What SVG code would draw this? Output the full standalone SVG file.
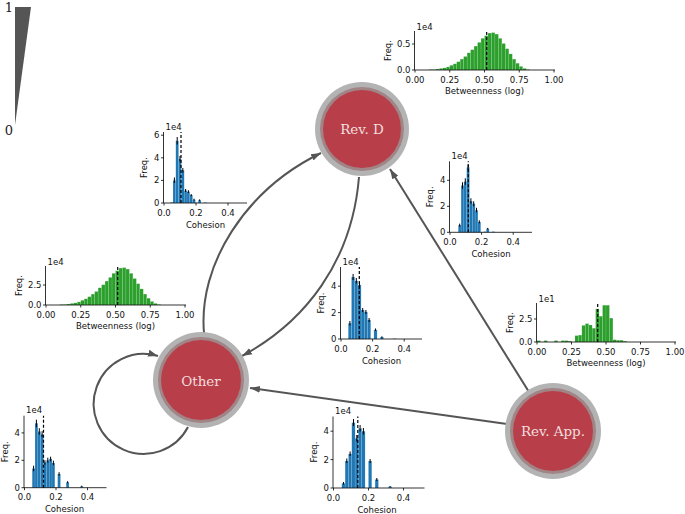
<svg xmlns="http://www.w3.org/2000/svg" width="685" height="514" viewBox="0 0 685 514">
<style>
.sp{stroke:#000;stroke-width:0.8;fill:none}
.tk{stroke:#000;stroke-width:0.8;fill:none}
.tl{font-family:"DejaVu Sans",sans-serif;font-size:8.5px;fill:#111}
.e{text-anchor:end}
.m{text-anchor:middle}
.g{fill:#2ca02c;stroke:#fff;stroke-opacity:.3;stroke-width:.4}
.b{fill:#1f77b4;stroke:#fff;stroke-opacity:.3;stroke-width:.4}
.eb{stroke:#000;stroke-width:1;fill:none}
.dash{stroke:#000;stroke-width:1.2;stroke-dasharray:3 2;fill:none}
.edge{fill:none;stroke:#555;stroke-width:2;marker-end:url(#ah)}
.ring{fill:#b3b3b3}
.band{fill:#a08486}
.core{fill:#b83f4a}
.nl{font-family:"DejaVu Serif",serif;font-size:13.5px;fill:#f3dede;text-anchor:middle}
.lg{font-family:"DejaVu Serif",serif;font-size:13px;fill:#222}
</style>
<defs>
<marker id="ah" viewBox="0 0 10 10" refX="10" refY="5" markerWidth="10" markerHeight="10" markerUnits="userSpaceOnUse" orient="auto">
<path d="M0,1.5L10,5L0,8.5z" fill="#555"/>
</marker>
<g id="btw">
<rect class="g" x="13.9" y="-0.5" width="3.48" height="0.5"/>
<rect class="g" x="17.38" y="-0.5" width="3.48" height="0.5"/>
<rect class="g" x="20.85" y="-1" width="3.48" height="1"/>
<rect class="g" x="24.33" y="-1.6" width="3.48" height="1.6"/>
<rect class="g" x="27.8" y="-2.1" width="3.48" height="2.1"/>
<rect class="g" x="31.28" y="-3.1" width="3.48" height="3.1"/>
<rect class="g" x="34.75" y="-4.7" width="3.48" height="4.7"/>
<rect class="g" x="38.23" y="-6.2" width="3.48" height="6.2"/>
<rect class="g" x="41.7" y="-8.3" width="3.48" height="8.3"/>
<rect class="g" x="45.18" y="-10.9" width="3.48" height="10.9"/>
<rect class="g" x="48.65" y="-13.5" width="3.48" height="13.5"/>
<rect class="g" x="52.13" y="-17.2" width="3.48" height="17.2"/>
<rect class="g" x="55.6" y="-20.3" width="3.48" height="20.3"/>
<rect class="g" x="59.08" y="-23.9" width="3.48" height="23.9"/>
<rect class="g" x="62.55" y="-27.6" width="3.48" height="27.6"/>
<rect class="g" x="66.03" y="-31.7" width="3.48" height="31.7"/>
<rect class="g" x="69.5" y="-34.3" width="3.48" height="34.3"/>
<rect class="g" x="72.98" y="-36.9" width="3.48" height="36.9"/>
<rect class="g" x="76.45" y="-37.4" width="3.48" height="37.4"/>
<rect class="g" x="79.93" y="-35.9" width="3.48" height="35.9"/>
<rect class="g" x="83.4" y="-31.7" width="3.48" height="31.7"/>
<rect class="g" x="86.88" y="-26.5" width="3.48" height="26.5"/>
<rect class="g" x="90.35" y="-21.3" width="3.48" height="21.3"/>
<rect class="g" x="93.83" y="-16.1" width="3.48" height="16.1"/>
<rect class="g" x="97.3" y="-10.9" width="3.48" height="10.9"/>
<rect class="g" x="100.78" y="-6.8" width="3.48" height="6.8"/>
<rect class="g" x="104.25" y="-3.6" width="3.48" height="3.6"/>
<rect class="g" x="107.73" y="-1.6" width="3.48" height="1.6"/>
<rect class="g" x="111.2" y="-0.5" width="3.48" height="0.5"/>
<path class="dash" d="M71.7,0V-39"/>
</g>
</defs>

<g id="legend">
<polygon points="15,7 31,7 15,125" fill="#555"/>
<text class="lg" x="13" y="12" text-anchor="end">1</text>
<text class="lg" x="13" y="135" text-anchor="end">0</text>
</g>

<g id="connectors">
<path class="edge" d="M204,333 C198,265 245,190 321,153"/>
<path class="edge" d="M359,177 C352,262 305,322 242,356"/>
<path class="edge" d="M529,392 L390,169"/>
<path class="edge" d="M507,424 L250,388"/>
<path class="edge" d="M188,427 A50,50 0 1 1 158,356"/>
</g>

<g id="hist-revd-betweenness" transform="translate(415,70)">
<use href="#btw"/>
<path class="sp" d="M-0.5,-39V0H140"/>
<path class="tk" d="M-3,0H-0.5M-3,-26H-0.5M0,0V2.5M34.75,0V2.5M69.5,0V2.5M104.25,0V2.5M139,0V2.5"/>
<text class="tl e" x="-4.5" y="3">0.0</text>
<text class="tl e" x="-4.5" y="-23">0.5</text>
<text class="tl m" x="0" y="12.5">0.00</text>
<text class="tl m" x="34.75" y="12.5">0.25</text>
<text class="tl m" x="69.5" y="12.5">0.50</text>
<text class="tl m" x="104.25" y="12.5">0.75</text>
<text class="tl m" x="139" y="12.5">1.00</text>
<text class="tl" x="1.5" y="-40.5">1e4</text>
<text class="tl m" transform="translate(-24,-19.5) rotate(-90)">Freq.</text>
<text class="tl m" x="69.5" y="24">Betweenness (log)</text>
</g>

<g id="hist-other-betweenness" transform="translate(46,305)">
<use href="#btw"/>
<path class="sp" d="M-0.5,-39V0H140"/>
<path class="tk" d="M-3,0H-0.5M-3,-20H-0.5M0,0V2.5M34.75,0V2.5M69.5,0V2.5M104.25,0V2.5M139,0V2.5"/>
<text class="tl e" x="-4.5" y="3">0.0</text>
<text class="tl e" x="-4.5" y="-17">2.5</text>
<text class="tl m" x="0" y="12.5">0.00</text>
<text class="tl m" x="34.75" y="12.5">0.25</text>
<text class="tl m" x="69.5" y="12.5">0.50</text>
<text class="tl m" x="104.25" y="12.5">0.75</text>
<text class="tl m" x="139" y="12.5">1.00</text>
<text class="tl" x="1.5" y="-40.5">1e4</text>
<text class="tl m" transform="translate(-24,-19.5) rotate(-90)">Freq.</text>
<text class="tl m" x="69.5" y="24">Betweenness (log)</text>
</g>

<g id="hist-revapp-betweenness" transform="translate(537,342)">
<rect class="g" x="0" y="-1.4" width="3.45" height="1.4"/>
<rect class="g" x="6.9" y="-1.4" width="3.45" height="1.4"/>
<rect class="g" x="17.25" y="-1.4" width="3.45" height="1.4"/>
<rect class="g" x="24.15" y="-1.4" width="3.45" height="1.4"/>
<rect class="g" x="27.6" y="-1.4" width="3.45" height="1.4"/>
<rect class="g" x="31.05" y="-0.9" width="3.45" height="0.9"/>
<rect class="g" x="37.95" y="-6.4" width="3.45" height="6.4"/>
<rect class="g" x="41.4" y="-6.9" width="3.45" height="6.9"/>
<rect class="g" x="44.85" y="-16.6" width="3.45" height="16.6"/>
<rect class="g" x="48.3" y="-18.4" width="3.45" height="18.4"/>
<rect class="g" x="51.75" y="-17" width="3.45" height="17"/>
<rect class="g" x="55.2" y="-13.8" width="3.45" height="13.8"/>
<rect class="g" x="58.65" y="-33.1" width="3.45" height="33.1"/>
<rect class="g" x="62.1" y="-25.8" width="3.45" height="25.8"/>
<rect class="g" x="65.55" y="-36.8" width="3.45" height="36.8"/>
<rect class="g" x="69" y="-36.8" width="3.45" height="36.8"/>
<rect class="g" x="72.45" y="-23.9" width="3.45" height="23.9"/>
<rect class="g" x="75.9" y="-2.3" width="3.45" height="2.3"/>
<rect class="g" x="79.35" y="-1.8" width="3.45" height="1.8"/>
<rect class="g" x="82.8" y="-1.8" width="3.45" height="1.8"/>
<rect class="g" x="86.25" y="-0.9" width="3.45" height="0.9"/>
<path class="dash" d="M60.7,0V-39"/>
<path class="sp" d="M-0.5,-39V0H139"/>
<path class="tk" d="M-3,0H-0.5M-3,-23H-0.5M0,0V2.5M34.5,0V2.5M69,0V2.5M103.5,0V2.5M138,0V2.5"/>
<text class="tl e" x="-4.5" y="3">0.0</text>
<text class="tl e" x="-4.5" y="-20">2.5</text>
<text class="tl m" x="0" y="12.5">0.00</text>
<text class="tl m" x="34.5" y="12.5">0.25</text>
<text class="tl m" x="69" y="12.5">0.50</text>
<text class="tl m" x="103.5" y="12.5">0.75</text>
<text class="tl m" x="138" y="12.5">1.00</text>
<text class="tl" x="1.5" y="-40.5">1e1</text>
<text class="tl m" transform="translate(-24,-19.5) rotate(-90)">Freq.</text>
<text class="tl m" x="69" y="24">Betweenness (log)</text>
</g>

<g id="hist-other-revd-cohesion" transform="translate(164,203)">
<rect class="b" x="6.2" y="-0.6" width="2.8" height="0.6"/>
<rect class="b" x="9" y="-22.6" width="2.8" height="22.6"/>
<rect class="b" x="11.8" y="-62.2" width="2.8" height="62.2"/>
<rect class="b" x="14.6" y="-44.1" width="2.8" height="44.1"/>
<rect class="b" x="17.4" y="-32.8" width="2.8" height="32.8"/>
<rect class="b" x="20.2" y="-12.4" width="2.8" height="12.4"/>
<rect class="b" x="23" y="-11.3" width="2.8" height="11.3"/>
<rect class="b" x="25.8" y="-7.9" width="2.8" height="7.9"/>
<rect class="b" x="28.6" y="-3.4" width="2.8" height="3.4"/>
<rect class="b" x="31.4" y="-0.3" width="2.8" height="0.3"/>
<rect class="b" x="34.2" y="-2.8" width="2.8" height="2.8"/>
<rect class="b" x="39.8" y="-0.5" width="2.8" height="0.5"/>
<path class="eb" d="M10.4,-20V-25.5M13.2,-58.5V-66M16,-41.5V-47M18.8,-30.5V-35M21.6,-11V-14M24.4,-10V-12.8M27.2,-6.8V-9M30,-2.5V-4.3M35.6,-2V-3.6"/>
<path class="dash" d="M17,0V-71"/>
<path class="sp" d="M-0.5,-71V0H83"/>
<path class="tk" d="M-3,0H-0.5M-3,-22.6H-0.5M-3,-45.2H-0.5M-3,-67.8H-0.5M0,0V2.5M32,0V2.5M64,0V2.5"/>
<text class="tl e" x="-4.5" y="3">0</text>
<text class="tl e" x="-4.5" y="-19.6">2</text>
<text class="tl e" x="-4.5" y="-42.2">4</text>
<text class="tl e" x="-4.5" y="-64.8">6</text>
<text class="tl m" x="0" y="12.5">0.0</text>
<text class="tl m" x="32" y="12.5">0.2</text>
<text class="tl m" x="64" y="12.5">0.4</text>
<text class="tl" x="1.5" y="-73.5">1e4</text>
<text class="tl m" transform="translate(-17,-35.5) rotate(-90)">Freq.</text>
<text class="tl m" x="41.5" y="24.5">Cohesion</text>
</g>

<g id="hist-revapp-revd-cohesion" transform="translate(450,232.3)">
<rect class="b" x="8.3" y="-7.2" width="2.8" height="7.2"/>
<rect class="b" x="11.1" y="-46.8" width="2.8" height="46.8"/>
<rect class="b" x="13.9" y="-50.7" width="2.8" height="50.7"/>
<rect class="b" x="16.7" y="-65" width="2.8" height="65"/>
<rect class="b" x="19.5" y="-31.2" width="2.8" height="31.2"/>
<rect class="b" x="22.3" y="-28.6" width="2.8" height="28.6"/>
<rect class="b" x="25.1" y="-22.1" width="2.8" height="22.1"/>
<rect class="b" x="27.9" y="-10.4" width="2.8" height="10.4"/>
<rect class="b" x="33.5" y="-0.7" width="2.8" height="0.7"/>
<rect class="b" x="36.3" y="-3.6" width="2.8" height="3.6"/>
<rect class="b" x="41.9" y="-0.7" width="2.8" height="0.7"/>
<path class="eb" d="M9.7,-5.7V-8.7M12.5,-43.5V-50M15.3,-47.5V-54M18.1,-62V-68M20.9,-28.5V-34M23.7,-26V-31M26.5,-20V-24.5M29.3,-9V-12M37.7,-2.8V-4.4"/>
<path class="dash" d="M18.3,0V-71"/>
<path class="sp" d="M-0.5,-71V0H82"/>
<path class="tk" d="M-3,0H-0.5M-3,-26H-0.5M-3,-52H-0.5M0,0V2.5M31.6,0V2.5M63.2,0V2.5"/>
<text class="tl e" x="-4.5" y="3">0</text>
<text class="tl e" x="-4.5" y="-23">2</text>
<text class="tl e" x="-4.5" y="-49">4</text>
<text class="tl m" x="0" y="12.5">0.0</text>
<text class="tl m" x="31.6" y="12.5">0.2</text>
<text class="tl m" x="63.2" y="12.5">0.4</text>
<text class="tl" x="1.5" y="-73.5">1e4</text>
<text class="tl m" transform="translate(-17,-35.5) rotate(-90)">Freq.</text>
<text class="tl m" x="41" y="24.5">Cohesion</text>
</g>

<g id="hist-revd-other-cohesion" transform="translate(341,339)">
<rect class="b" x="7.3" y="-15.8" width="3.2" height="15.8"/>
<rect class="b" x="10.5" y="-62" width="3.2" height="62"/>
<rect class="b" x="13.7" y="-58.1" width="3.2" height="58.1"/>
<rect class="b" x="16.9" y="-54.1" width="3.2" height="54.1"/>
<rect class="b" x="20.1" y="-29" width="3.2" height="29"/>
<rect class="b" x="23.3" y="-27.1" width="3.2" height="27.1"/>
<rect class="b" x="26.5" y="-19.1" width="3.2" height="19.1"/>
<rect class="b" x="32.9" y="-9.2" width="3.2" height="9.2"/>
<rect class="b" x="39.3" y="-2" width="3.2" height="2"/>
<rect class="b" x="52.1" y="-0.4" width="3.2" height="0.4"/>
<path class="eb" d="M8.9,-13.5V-18M12.1,-59V-65M15.3,-55.5V-61M18.5,-51.5V-57M21.7,-27V-31M24.9,-25V-29M28.1,-17V-21M34.5,-8V-10.5M40.9,-1.3V-2.7"/>
<path class="dash" d="M18.3,0V-72"/>
<path class="sp" d="M-0.5,-72V0H81"/>
<path class="tk" d="M-3,0H-0.5M-3,-26.4H-0.5M-3,-52.8H-0.5M0,0V2.5M31.6,0V2.5M63.2,0V2.5"/>
<text class="tl e" x="-4.5" y="3">0</text>
<text class="tl e" x="-4.5" y="-23.4">2</text>
<text class="tl e" x="-4.5" y="-49.8">4</text>
<text class="tl m" x="0" y="12.5">0.0</text>
<text class="tl m" x="31.6" y="12.5">0.2</text>
<text class="tl m" x="63.2" y="12.5">0.4</text>
<text class="tl" x="1.5" y="-74.5">1e4</text>
<text class="tl m" transform="translate(-17,-36) rotate(-90)">Freq.</text>
<text class="tl m" x="40.5" y="24.5">Cohesion</text>
</g>

<g id="hist-other-other-cohesion" transform="translate(24.5,487.7)">
<rect class="b" x="7.7" y="-19.2" width="2.83" height="19.2"/>
<rect class="b" x="10.53" y="-64.4" width="2.83" height="64.4"/>
<rect class="b" x="13.36" y="-56.2" width="2.83" height="56.2"/>
<rect class="b" x="16.19" y="-53.4" width="2.83" height="53.4"/>
<rect class="b" x="19.02" y="-25.3" width="2.83" height="25.3"/>
<rect class="b" x="21.85" y="-27.4" width="2.83" height="27.4"/>
<rect class="b" x="24.68" y="-28.8" width="2.83" height="28.8"/>
<rect class="b" x="27.51" y="-24.7" width="2.83" height="24.7"/>
<rect class="b" x="33.17" y="-13.7" width="2.83" height="13.7"/>
<rect class="b" x="41.66" y="-5.5" width="2.83" height="5.5"/>
<rect class="b" x="55.81" y="-1.4" width="2.83" height="1.4"/>
<path class="eb" d="M9.1,-16.5V-22M11.9,-60.5V-68M14.8,-53V-59.5M17.6,-50.5V-56.5M20.4,-23V-27.5M23.3,-25V-30M26.1,-26.5V-31M28.9,-22.5V-27M34.6,-12V-15.5M43.1,-4.5V-6.5M57.2,-0.8V-2"/>
<path class="dash" d="M19,0V-72"/>
<path class="sp" d="M-0.5,-72V0H82"/>
<path class="tk" d="M-3,0H-0.5M-3,-27.4H-0.5M-3,-54.8H-0.5M0,0V2.5M31.5,0V2.5M63,0V2.5"/>
<text class="tl e" x="-4.5" y="3">0</text>
<text class="tl e" x="-4.5" y="-24.4">2</text>
<text class="tl e" x="-4.5" y="-51.8">4</text>
<text class="tl m" x="0" y="12.5">0.0</text>
<text class="tl m" x="31.5" y="12.5">0.2</text>
<text class="tl m" x="63" y="12.5">0.4</text>
<text class="tl" x="1.5" y="-74.5">1e4</text>
<text class="tl m" transform="translate(-17,-36) rotate(-90)">Freq.</text>
<text class="tl m" x="40" y="24.5">Cohesion</text>
</g>

<g id="hist-revapp-other-cohesion" transform="translate(333.5,488)">
<rect class="b" x="8.3" y="-4.7" width="3.33" height="4.7"/>
<rect class="b" x="11.63" y="-27" width="3.33" height="27"/>
<rect class="b" x="14.96" y="-34.1" width="3.33" height="34.1"/>
<rect class="b" x="18.29" y="-65.3" width="3.33" height="65.3"/>
<rect class="b" x="21.62" y="-49.7" width="3.33" height="49.7"/>
<rect class="b" x="24.95" y="-59.6" width="3.33" height="59.6"/>
<rect class="b" x="28.28" y="-56.8" width="3.33" height="56.8"/>
<rect class="b" x="34.94" y="-27" width="3.33" height="27"/>
<rect class="b" x="41.6" y="-8.5" width="3.33" height="8.5"/>
<rect class="b" x="54.92" y="-1.4" width="3.33" height="1.4"/>
<path class="eb" d="M10,-3.5V-6M13.3,-25V-29.5M16.6,-32V-36.5M20,-62V-69M23.3,-46.5V-53M26.6,-56.5V-63M29.9,-53.5V-60M36.6,-25V-29M43.3,-7V-10M56.6,-0.8V-2"/>
<path class="dash" d="M24.3,0V-71.5"/>
<path class="sp" d="M-0.5,-71.5V0H91"/>
<path class="tk" d="M-3,0H-0.5M-3,-28.4H-0.5M-3,-56.8H-0.5M0,0V2.5M35,0V2.5M70,0V2.5"/>
<text class="tl e" x="-4.5" y="3">0</text>
<text class="tl e" x="-4.5" y="-25.4">2</text>
<text class="tl e" x="-4.5" y="-53.8">4</text>
<text class="tl m" x="0" y="12.5">0.0</text>
<text class="tl m" x="35" y="12.5">0.2</text>
<text class="tl m" x="70" y="12.5">0.4</text>
<text class="tl" x="1.5" y="-74">1e4</text>
<text class="tl m" transform="translate(-17,-36) rotate(-90)">Freq.</text>
<text class="tl m" x="43.5" y="24.5">Cohesion</text>
</g>

<g id="node-revd">
<circle class="ring" cx="362" cy="129" r="47"/>
<circle class="band" cx="362" cy="129" r="42"/>
<circle class="core" cx="362" cy="129" r="39"/>
<text class="nl" x="362" y="134">Rev. D</text>
</g>
<g id="node-other">
<circle class="ring" cx="201" cy="380" r="48"/>
<circle class="band" cx="201" cy="380" r="43"/>
<circle class="core" cx="201" cy="380" r="40"/>
<text class="nl" x="201" y="385.5">Other</text>
</g>
<g id="node-revapp">
<circle class="ring" cx="553" cy="431" r="48"/>
<circle class="band" cx="553" cy="431" r="43"/>
<circle class="core" cx="553" cy="431" r="40"/>
<text class="nl" x="553" y="436">Rev. App.</text>
</g>
</svg>
